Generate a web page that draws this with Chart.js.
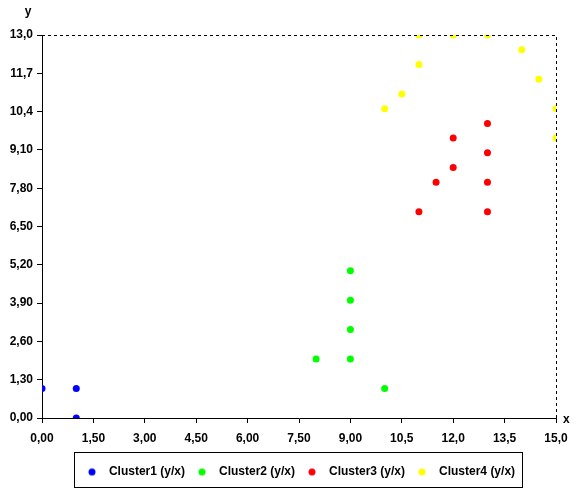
<!DOCTYPE html>
<html>
<head>
<meta charset="utf-8">
<script src="https://cdn.jsdelivr.net/npm/chart.js@4/dist/chart.umd.min.js"></script>
<style>
body { margin: 0; background: #fff; }
</style>
</head>
<body>
<canvas id="chart" width="580" height="494"></canvas>
<script>
// cluster points
const cluster1X = [0, 1, 1];
const cluster1Y = [1, 1, 0];
const cluster2X = [8, 9, 9, 9, 9, 10];
const cluster2Y = [2, 2, 3, 4, 5, 1];
const cluster3X = [11, 11.5, 12, 12, 13, 13, 13, 13];
const cluster3Y = [7, 8, 8.5, 9.5, 7, 8, 9, 10];
const cluster4X = [10, 10.5, 11, 11, 12, 13, 14, 14.5, 15, 15];
const cluster4Y = [10.5, 11, 12, 13, 13, 13, 12.5, 11.5, 10.5, 9.5];

const seriesNames = ["Cluster1 (y/x)", "Cluster2 (y/x)", "Cluster3 (y/x)", "Cluster4 (y/x)"];
const seriesColors = ["#0000ff", "#00ff00", "#ff0000", "#ffff00"];

const xTicks = [0, 1.5, 3, 4.5, 6, 7.5, 9, 10.5, 12, 13.5, 15];
const yTicks = [0, 1.3, 2.6, 3.9, 5.2, 6.5, 7.8, 9.1, 10.4, 11.7, 13];
const xTitle = "x";
const yTitle = "y";

const FONT = '"Liberation Sans", Arial, sans-serif';

function pts(xs, ys){
    let out = [];
    for(let i = 0; i < xs.length; i++) out.push({x: xs[i], y: ys[i]});
    return out;
}
//3 significant digits, comma as decimal mark
function fmt(v){
    return Number(v).toPrecision(3).replace(".", ",");
}
//legend dot drawn left of the image centre so the text sits further away
function makeDot(color){
    let c = document.createElement("canvas");
    c.width = 20; c.height = 9;
    let g = c.getContext("2d");
    g.fillStyle = color;
    g.beginPath();
    g.arc(5, 4.5, 3.5, 0, Math.PI*2);
    g.fill();
    return c;
}
const dots = seriesColors.map(makeDot);

const allX = [cluster1X, cluster2X, cluster3X, cluster4X];
const allY = [cluster1Y, cluster2Y, cluster3Y, cluster4Y];

const frame = {
    id: "frame",
    afterLayout(chart){
        //nudge the legend row a little to the right, like the original
        chart.legend.left += 4;
        chart.legend.right += 4;
    },
    afterDraw(chart){
        const ctx = chart.ctx, a = chart.chartArea;
        ctx.save();
        ctx.strokeStyle = "#000";
        ctx.lineWidth = 1;
        ctx.setLineDash([3, 3]);
        ctx.beginPath();
        ctx.moveTo(a.left, Math.round(a.top) + 0.5);
        ctx.lineTo(Math.round(a.right) + 0.5, Math.round(a.top) + 0.5);
        ctx.lineTo(Math.round(a.right) + 0.5, a.bottom);
        ctx.stroke();
        ctx.setLineDash([]);
        //box round the legend
        const hb = chart.legend.legendHitBoxes;
        const first = hb[0], last = hb[hb.length - 1];
        const l = Math.round(first.left - 17), r = Math.round(last.left + last.width + 7);
        const t = Math.round(first.top - 14), b = Math.round(first.top + first.height + 9);
        ctx.strokeRect(l + 0.5, t + 0.5, r - l, b - t);
        //axis titles
        ctx.fillStyle = "#000";
        ctx.font = "bold 12px " + FONT;
        ctx.textBaseline = "middle";
        ctx.textAlign = "center";
        ctx.fillText(yTitle, a.left - 14, a.top - 23);
        ctx.textAlign = "left";
        ctx.fillText(xTitle, a.right + 7, a.bottom + 2);
        ctx.restore();
    }
};

const axisCommon = {
    grid: { drawOnChartArea: false, drawTicks: true, tickLength: 5, color: "#000" },
    border: { color: "#000", width: 1 },
    ticks: { color: "#000", font: { family: FONT, size: 12, weight: "bold" }, callback: v => fmt(v) }
};

new Chart(document.getElementById("chart"), {
    type: "scatter",
    data: {
        datasets: seriesNames.map((name, i) => ({
            label: name,
            data: pts(allX[i], allY[i]),
            backgroundColor: seriesColors[i],
            borderColor: seriesColors[i],
            borderWidth: 0,
            pointRadius: 3.5,
            pointHoverRadius: 3.5,
            clip: 0
        }))
    },
    options: {
        responsive: false,
        devicePixelRatio: 1,
        animation: false,
        layout: { padding: { top: 35, right: 24, left: 0, bottom: 6 } },
        plugins: {
            tooltip: { enabled: false },
            legend: {
                position: "bottom",
                fullSize: false,
                labels: {
                    usePointStyle: true,
                    padding: 16,
                    color: "#000",
                    font: { family: FONT, size: 12, weight: "bold" },
                    generateLabels(chart){
                        const items = Chart.defaults.plugins.legend.labels.generateLabels(chart);
                        items.forEach((it, i) => { it.pointStyle = dots[i]; it.lineWidth = 0; });
                        return items;
                    }
                }
            }
        },
        scales: {
            x: Object.assign({}, axisCommon, {
                type: "linear", min: 0, max: 15,
                ticks: Object.assign({}, axisCommon.ticks, { padding: 8, maxRotation: 0 }),
                afterBuildTicks: s => { s.ticks = xTicks.map(v => ({value: v})); },
                afterFit: s => { s.height = 32; }
            }),
            y: Object.assign({}, axisCommon, {
                type: "linear", min: 0, max: 13,
                ticks: Object.assign({}, axisCommon.ticks, { padding: 4 }),
                afterBuildTicks: s => { s.ticks = yTicks.map(v => ({value: v})); },
                afterFit: s => { s.width = 42; }
            })
        }
    },
    plugins: [frame]
});
</script>
</body>
</html>
